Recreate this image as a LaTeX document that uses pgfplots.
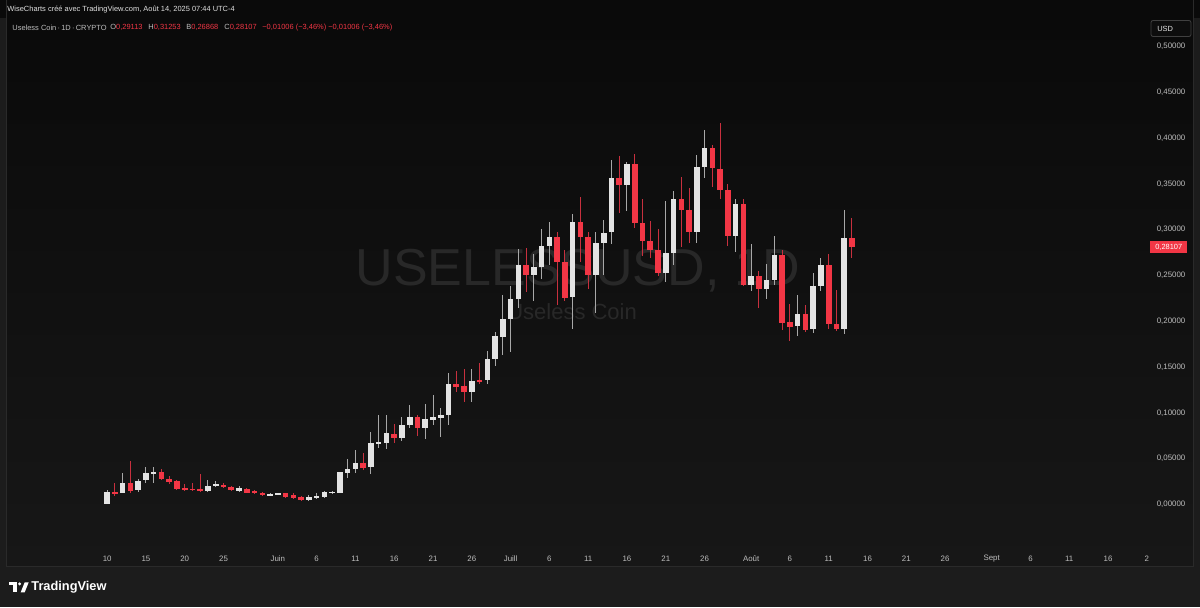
\documentclass[border=0pt]{standalone}
\usepackage{fontspec}
\setmainfont{Liberation Sans}
\usepackage{pgfplots}
\pgfplotsset{compat=1.18}
\usepackage{pgfplotstable}

\definecolor{bgouter}{HTML}{1C1C1C}
\definecolor{bgtop}{HTML}{0A0A0A}
\definecolor{bgbot}{HTML}{171717}
\definecolor{frame}{HTML}{2A2A2A}
\definecolor{upbody}{HTML}{E3E3E3}
\definecolor{upwick}{HTML}{A8A8A8}
\definecolor{dnbody}{HTML}{F23645}
\definecolor{dnwick}{HTML}{C8303E}
\definecolor{txt}{HTML}{BDBDBD}
\definecolor{wm}{HTML}{282828}

\pgfplotstableread{
d o h l c
0 0.0005 0.016 0.000 0.014
2 0.013 0.034 0.012 0.023
4 0.016 0.028 0.014 0.026
5 0.027 0.041 0.023 0.034
6 0.033 0.041 0.023 0.035
13 0.015 0.027 0.014 0.020
14 0.020 0.026 0.019 0.022
17 0.015 0.020 0.014 0.018
21 0.010 0.012 0.009 0.011
22 0.011 0.013 0.010 0.012
26 0.005 0.010 0.004 0.008
27 0.007 0.012 0.006 0.009
28 0.008 0.015 0.007 0.014
29 0.013 0.015 0.011 0.014
30 0.013 0.036 0.012 0.035
31 0.034 0.050 0.029 0.039
32 0.039 0.060 0.034 0.045
34 0.041 0.079 0.033 0.067
35 0.066 0.098 0.062 0.068
36 0.067 0.098 0.061 0.078
38 0.073 0.096 0.069 0.087
39 0.087 0.109 0.083 0.096
41 0.083 0.110 0.072 0.093
42 0.092 0.120 0.087 0.096
43 0.094 0.105 0.074 0.098
44 0.098 0.144 0.087 0.131
47 0.123 0.148 0.112 0.135
49 0.136 0.168 0.131 0.159
50 0.159 0.188 0.151 0.184
51 0.183 0.229 0.163 0.203
52 0.203 0.238 0.167 0.224
53 0.224 0.279 0.214 0.261
55 0.251 0.273 0.222 0.259
56 0.259 0.301 0.246 0.282
57 0.282 0.308 0.262 0.292
60 0.226 0.317 0.192 0.308
63 0.251 0.297 0.209 0.285
64 0.285 0.311 0.251 0.296
65 0.297 0.376 0.284 0.356
67 0.349 0.374 0.320 0.372
72 0.253 0.331 0.243 0.275
73 0.275 0.342 0.262 0.334
76 0.297 0.382 0.285 0.368
77 0.368 0.409 0.356 0.389
81 0.293 0.333 0.276 0.328
83 0.240 0.284 0.233 0.249
85 0.235 0.263 0.224 0.245
86 0.245 0.293 0.240 0.272
89 0.195 0.229 0.184 0.208
91 0.192 0.253 0.187 0.239
92 0.239 0.269 0.233 0.262
95 0.192 0.321 0.186 0.29113
}\upcandles

\pgfplotstableread{
d o h l c
1 0.013 0.023 0.009 0.012
3 0.023 0.047 0.013 0.015
7 0.035 0.039 0.027 0.028
8 0.028 0.031 0.022 0.025
9 0.026 0.027 0.016 0.017
10 0.018 0.022 0.015 0.016
11 0.017 0.023 0.015 0.016
12 0.017 0.033 0.014 0.015
15 0.021 0.023 0.018 0.019
16 0.019 0.020 0.015 0.016
18 0.017 0.018 0.012 0.013
19 0.015 0.016 0.011 0.012
20 0.013 0.014 0.009 0.010
23 0.012 0.013 0.007 0.008
24 0.010 0.012 0.006 0.007
25 0.008 0.009 0.004 0.005
33 0.045 0.056 0.038 0.040
37 0.077 0.088 0.067 0.073
40 0.096 0.098 0.075 0.083
45 0.131 0.146 0.123 0.128
46 0.129 0.148 0.112 0.123
48 0.136 0.155 0.132 0.134
54 0.261 0.280 0.232 0.250
58 0.292 0.298 0.218 0.265
59 0.265 0.278 0.222 0.225
61 0.308 0.336 0.265 0.292
62 0.292 0.298 0.235 0.251
66 0.356 0.380 0.318 0.349
68 0.372 0.383 0.302 0.307
69 0.307 0.334 0.271 0.288
70 0.288 0.309 0.269 0.278
71 0.278 0.301 0.249 0.253
74 0.334 0.358 0.281 0.321
75 0.321 0.346 0.285 0.297
78 0.389 0.393 0.347 0.367
79 0.366 0.416 0.334 0.343
80 0.343 0.350 0.282 0.293
82 0.328 0.333 0.238 0.240
84 0.249 0.255 0.214 0.235
87 0.272 0.278 0.191 0.198
88 0.199 0.219 0.179 0.194
90 0.208 0.218 0.188 0.191
93 0.262 0.273 0.192 0.197
94 0.197 0.234 0.189 0.192
96 0.29113 0.31253 0.26868 0.28107
}\downcandles

\newcommand{\sm}{\fontsize{5.6}{6.5}\selectfont}
\newcommand{\tk}{\fontsize{5.9}{6.5}\selectfont}

\begin{document}
\begin{tikzpicture}[x=0.75pt,y=0.75pt]
% backgrounds
\fill[bgouter] (0,0) rectangle (1200,607);
\shade[top color=bgtop, bottom color=bgbot] (6,41) rectangle (1193,589);
\fill[bgtop] (0,589) rectangle (1200,607);
\draw[frame, line width=0.75pt] (6,607) -- (6,41) -- (1193,41) -- (1193,607);
% header
\node[anchor=west, inner sep=0, text=white!88!black, font=\sm] at (7,598) {WiseCharts créé avec TradingView.com, Août 14, 2025 07:44 UTC-4};
\node[anchor=west, inner sep=0, text=txt, font=\sm] at (12,580) {Useless Coin\,·\,1D\,·\,CRYPTO};
\node[anchor=west, inner sep=0, font=\sm] at (110,580) {\textcolor{txt}{O}\textcolor{dnbody}{0,29113}};
\node[anchor=west, inner sep=0, font=\sm] at (148,580) {\textcolor{txt}{H}\textcolor{dnbody}{0,31253}};
\node[anchor=west, inner sep=0, font=\sm] at (186,580) {\textcolor{txt}{B}\textcolor{dnbody}{0,26868}};
\node[anchor=west, inner sep=0, font=\sm] at (224,580) {\textcolor{txt}{C}\textcolor{dnbody}{0,28107}};
\node[anchor=west, inner sep=0, font=\sm, text=dnbody] at (262,580) {−0,01006 (−3,46\%)};
\node[anchor=west, inner sep=0, font=\sm, text=dnbody] at (328,580) {−0,01006 (−3,46\%)};
% watermark
\node[text=wm, font=\fontsize{39}{40}\selectfont] at (578,337) {USELESSUSD, 1D};
\node[text=wm, font=\fontsize{16.5}{18}\selectfont] at (572,296) {Useless Coin};
% USD box
\draw[rounded corners=1.5pt, draw=white!25!black, fill=black!95!white, line width=0.6pt] (1151,571) rectangle (1191,587);
\node[anchor=west, inner sep=0, font=\sm, text=white!90!black] at (1157,579) {USD};
% TradingView logo
\fill[white] (9,25) rectangle (17,22);
\fill[white] (13,25) rectangle (17,15);
\fill[white] (19.5,23.5) circle (1.6);
\fill[white] (20.5,15) -- (24.5,15) -- (28.5,25) -- (24.5,25) -- cycle;
\node[anchor=west, inner sep=0, text=white, font=\bfseries\fontsize{9.6}{10}\selectfont] at (31,20) {TradingView};

\begin{axis}[
  at={(0,72)}, anchor=south west,
  width=855pt, height=378.75pt, scale only axis,
  xmin=-13.79, xmax=133.12, ymin=-0.0404, ymax=0.5109,
  axis line style={draw=none},
  major tick length=0pt,
  clip=false,
  xtick={0,5,10,15,22,27,32,37,42,47,52,57,62,67,72,77,83,88,93,98,103,108,114,119,124,129},
  xticklabels={10,15,20,25,Juin,6,11,16,21,26,Juill,6,11,16,21,26,Août,6,11,16,21,26,Sept,6,11,16},
  xticklabel style={anchor=center, yshift=-12.75pt, font=\tk, text=txt},
  ytick={0,0.05,0.1,0.15,0.2,0.25,0.3,0.35,0.4,0.45,0.5},
  yticklabel pos=right,
  scaled y ticks=false,
  yticklabel style={anchor=east, xshift=37.5pt, font=\tk, text=txt,
    /pgf/number format/.cd, fixed, fixed zerofill, precision=5, use comma, assume math mode=true},
]
% wicks
\addplot[draw=none, mark=none, forget plot,
  error bars/.cd, y dir=both, y explicit, error mark=none,
  error bar style={line width=0.75pt, draw=upwick, solid}]
  table[x=d, y expr={(\thisrow{h}+\thisrow{l})/2}, y error expr={(\thisrow{h}-\thisrow{l})/2}] {\upcandles};
\addplot[draw=none, mark=none, forget plot,
  error bars/.cd, y dir=both, y explicit, error mark=none,
  error bar style={line width=0.75pt, draw=dnwick, solid}]
  table[x=d, y expr={(\thisrow{h}+\thisrow{l})/2}, y error expr={(\thisrow{h}-\thisrow{l})/2}] {\downcandles};
% bodies
\addplot[draw=none, mark=none, forget plot,
  error bars/.cd, y dir=both, y explicit, error mark=none,
  error bar style={line width=4.2pt, draw=upbody, solid}]
  table[x=d, y expr={(\thisrow{o}+\thisrow{c})/2}, y error expr={max(abs(\thisrow{o}-\thisrow{c})/2,0.0006)}] {\upcandles};
\addplot[draw=none, mark=none, forget plot,
  error bars/.cd, y dir=both, y explicit, error mark=none,
  error bar style={line width=4.2pt, draw=dnbody, solid}]
  table[x=d, y expr={(\thisrow{o}+\thisrow{c})/2}, y error expr={max(abs(\thisrow{o}-\thisrow{c})/2,0.0006)}] {\downcandles};
% clipped last date label
\node[font=\tk, text=txt, anchor=center] at (axis cs:134,-0.0404) [yshift=-12.75pt] {2};
% last price tag
\node[fill=dnbody, text=white, font=\sm, anchor=west, inner sep=0pt,
  minimum width=27.75pt, minimum height=9pt] at (axis cs:133.12,0.28107) [xshift=7.5pt] {0,28107};
\end{axis}
\end{tikzpicture}
\end{document}
